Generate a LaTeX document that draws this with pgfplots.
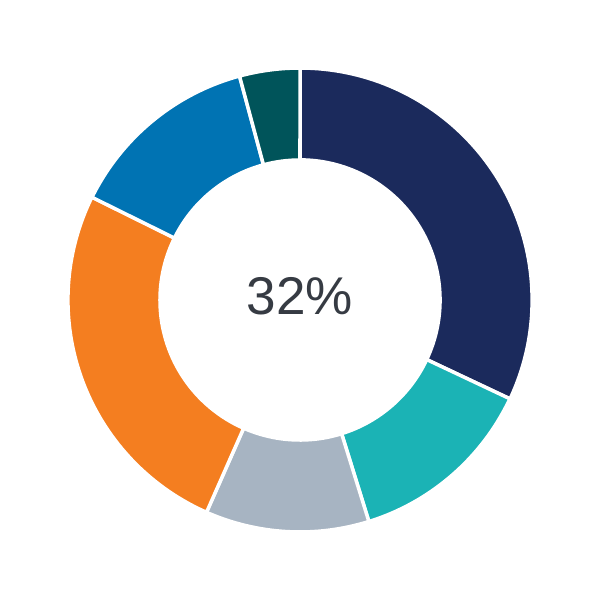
\documentclass[border=0pt]{standalone}
\usepackage{pgfplots}
\pgfplotsset{compat=1.18}
\usepackage{pgfplotstable}
\usepackage{fontspec}
\setmainfont{Liberation Sans}
\definecolor{c1}{HTML}{1B2A5C}
\definecolor{c2}{HTML}{1BB3B5}
\definecolor{c3}{HTML}{A7B4C2}
\definecolor{c4}{HTML}{F47E20}
\definecolor{c5}{HTML}{0073B3}
\definecolor{c6}{HTML}{00545A}
\definecolor{txt}{HTML}{363B43}
\pgfplotstableread{
value color
32.0 c1
13.2 c2
11.4 c3
25.7 c4
13.5 c5
4.2 c6
}\donutdata
\begin{document}
\begin{tikzpicture}
\begin{axis}[hide axis, disabledatascaling, x=0.01cm, y=0.01cm,
  xmin=-300, xmax=300, ymin=-300, ymax=300, clip=false, scale only axis]
\path (axis cs:-300,-300) rectangle (axis cs:300,300);
\pgfmathsetmacro\cum{0}
\pgfplotsforeachungrouped \i in {0,...,5}{%
  \pgfplotstablegetelem{\i}{value}\of\donutdata \let\v\pgfplotsretval
  \pgfplotstablegetelem{\i}{color}\of\donutdata \let\c\pgfplotsretval
  \pgfmathsetmacro\a{90-3.6*\cum}%
  \pgfmathsetmacro\b{90-3.6*(\cum+\v)}%
  \edef\temp{\noexpand\fill[fill=\c, draw=white, line width=1pt]
    (axis cs:{232*cos(\a)},{232*sin(\a)}) arc[start angle=\a, end angle=\b, radius=2.32cm]
    -- (axis cs:{140*cos(\b)},{140*sin(\b)}) arc[start angle=\b, end angle=\a, radius=1.40cm] -- cycle;}%
  \temp
  \pgfmathsetmacro\cum{\cum+\v}%
}
\node[text=txt, font=\fontsize{15.1}{15.1}\selectfont] at (axis cs:0,4) {32\%};
\end{axis}
\end{tikzpicture}
\end{document}
